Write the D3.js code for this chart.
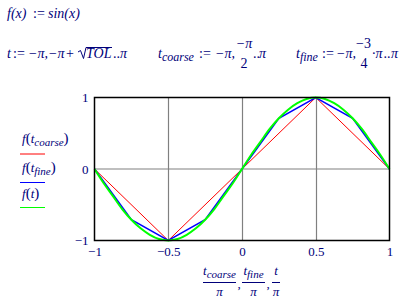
<!DOCTYPE html>
<html>
<head>
<meta charset="utf-8">
<script src="https://cdn.jsdelivr.net/npm/d3@7"></script>
<style>
  body { margin: 0; background: #fff; }
  svg text { font-family: "Liberation Serif", "Times New Roman", serif; fill: #00007a; }
</style>
</head>
<body>
<div id="chart"></div>
<script>
// x values are t/pi, y values are f(t)
const coarseX = [-1, -0.5, 0, 0.5, 1];
const coarseY = [0, -1, 0, 1, 0];
const fineX = [-1, -0.75, -0.5, -0.25, 0, 0.25, 0.5, 0.75, 1];
const fineY = [0, -0.71, -1, -0.71, 0, 0.71, 1, 0.71, 0];
const fullX = [-1, -0.9375, -0.875, -0.8125, -0.75, -0.6875, -0.625, -0.5625, -0.5,
  -0.4375, -0.375, -0.3125, -0.25, -0.1875, -0.125, -0.0625, 0,
  0.0625, 0.125, 0.1875, 0.25, 0.3125, 0.375, 0.4375, 0.5,
  0.5625, 0.625, 0.6875, 0.75, 0.8125, 0.875, 0.9375, 1];
const fullY = [0, -0.2, -0.38, -0.56, -0.71, -0.83, -0.92, -0.98, -1,
  -0.98, -0.92, -0.83, -0.71, -0.56, -0.38, -0.2, 0,
  0.2, 0.38, 0.56, 0.71, 0.83, 0.92, 0.98, 1,
  0.98, 0.92, 0.83, 0.71, 0.56, 0.38, 0.2, 0];
const xTicks = [-1, -0.5, 0, 0.5, 1];
const yTicks = [-1, 0, 1];

const width = 414, height = 305;
const svg = d3.select("#chart").append("svg")
  .attr("width", width).attr("height", height);

const x = d3.scaleLinear().domain([-1, 1]).range([94.5, 389.5]);
const y = d3.scaleLinear().domain([-1, 1]).range([240.5, 97.5]);

const navy = "#00007a";

// one piece of math text
function put(px, py, s, italic, size, anchor) {
  return svg.append("text").attr("x", px).attr("y", py)
    .style("font-size", (size || 14) + "px")
    .style("font-style", italic ? "italic" : "normal")
    .attr("text-anchor", anchor || "start")
    .text(s);
}
// "t" with a subscript, as one text
function tsub(px, py, name, size, anchor) {
  const t = svg.append("text").attr("x", px).attr("y", py)
    .style("font-size", size + "px").style("font-style", "italic")
    .attr("text-anchor", anchor || "start");
  t.append("tspan").text("t");
  if (name) t.append("tspan").text(name).attr("dy", 3).style("font-size", (size - 2) + "px");
  return t;
}
function bar(x1, x2, yy) {
  svg.append("line").attr("x1", x1).attr("x2", x2).attr("y1", yy).attr("y2", yy)
    .attr("stroke", navy).attr("stroke-width", 1);
}

// f(x) := sin(x)
put(7, 18, "f(x)", true);
put(33, 18, ":=", false);
put(48, 18, "sin(x)", true);

// t := -pi, -pi + sqrt(TOL) .. pi
const b2 = 57.5;
put(7, b2, "t", true);
put(13, b2, ":=", false);
put(28, b2, "\u2212\u03c0,", true);
put(48, b2, "\u2212\u03c0", true);
put(66, b2, "+", false);
svg.append("path").attr("d", "M78,52 L80.5,50.5 L83.5,58.5 L86,47.5 L112,47.5")
  .attr("fill", "none").attr("stroke", navy).attr("stroke-width", 1);
put(86, b2, "TOL", true);
put(113, b2, "..", false);
put(120, b2, "\u03c0", true);

// t_coarse := -pi, -pi/2 .. pi
tsub(158, b2, "coarse", 14);
put(199, b2, ":=", false);
put(215, b2, "\u2212\u03c0,", true);
put(244, 48, "\u2212\u03c0", true, 14, "middle");
put(244, 67.5, "2", false, 14, "middle");
put(253, b2, "..", false);
put(259, b2, "\u03c0", true);

// t_fine := -pi, -3/4 pi .. pi
tsub(296, b2, "fine", 14);
put(322, b2, ":=", false);
put(336, b2, "\u2212\u03c0,", true);
put(363.5, 48, "\u22123", false, 14, "middle");
put(364, 67.5, "4", false, 14, "middle");
put(371.5, b2, "\u00b7", false);
put(375.5, b2, "\u03c0", true);
put(383.5, b2, "..", false);
put(391, b2, "\u03c0", true);

// grid
const gridX = xTicks.filter(d => d !== -1 && d !== 1);
svg.append("g").selectAll("line").data(gridX).enter().append("line")
  .attr("x1", d => Math.round(x(d)) + 0.5).attr("x2", d => Math.round(x(d)) + 0.5)
  .attr("y1", y(1)).attr("y2", y(-1))
  .attr("stroke", "#808080").attr("stroke-width", 1.2);
svg.append("line")
  .attr("x1", x(-1)).attr("x2", x(1)).attr("y1", y(0)).attr("y2", y(0))
  .attr("stroke", "#808080").attr("stroke-width", 1.2);

// traces
const line = d3.line().x(d => x(d[0])).y(d => y(d[1]));
const smooth = d3.line().x(d => x(d[0])).y(d => y(d[1])).curve(d3.curveCatmullRom);
svg.append("path").datum(d3.zip(coarseX, coarseY)).attr("d", line)
  .attr("fill", "none").attr("stroke", "#ff0000").attr("stroke-width", 1);
svg.append("path").datum(d3.zip(fineX, fineY)).attr("d", line)
  .attr("fill", "none").attr("stroke", "#0000ff").attr("stroke-width", 1.5);
svg.append("path").datum(d3.zip(fullX, fullY)).attr("d", smooth)
  .attr("fill", "none").attr("stroke", "#00ff00").attr("stroke-width", 2);

// frame
svg.append("rect").attr("x", x(-1)).attr("y", y(1))
  .attr("width", x(1) - x(-1)).attr("height", y(-1) - y(1))
  .attr("fill", "none").attr("stroke", "#000").attr("stroke-width", 1.5);

// tick labels
const fmt = d3.format("");
const xAxis = svg.append("g").attr("transform", `translate(0,${y(-1)})`)
  .call(d3.axisBottom(x).tickValues(xTicks).tickFormat(fmt).tickSize(0).tickPadding(6));
const yAxis = svg.append("g").attr("transform", `translate(${x(-1)},0)`)
  .call(d3.axisLeft(y).tickValues(yTicks).tickFormat(fmt).tickSize(0).tickPadding(6));
[xAxis, yAxis].forEach(a => {
  a.select(".domain").remove();
  a.selectAll("text").style("font-size", "13px").attr("fill", navy)
    .style("font-family", "'Liberation Serif', serif");
});

// y legend: f(t_coarse), f(t_fine), f(t)
const legend = [
  { sub: "coarse", color: "#ff0000", base: 143, line: 154 },
  { sub: "fine", color: "#0000ff", base: 172, line: 182.5 },
  { sub: "", color: "#00ff00", base: 197.5, line: 207.5 }
];
legend.forEach(l => {
  const lt = svg.append("text").attr("x", 22).attr("y", l.base)
    .style("font-size", "13px").style("font-style", "italic");
  lt.append("tspan").text("f");
  lt.append("tspan").text("(").style("font-style", "normal").style("font-size", "15px");
  lt.append("tspan").text("t");
  if (l.sub) {
    lt.append("tspan").text(l.sub).attr("dy", 3).style("font-size", "11px");
    lt.append("tspan").text(")").attr("dy", -3).style("font-style", "normal").style("font-size", "15px");
  } else {
    lt.append("tspan").text(")").style("font-style", "normal").style("font-size", "15px");
  }
  svg.append("line").attr("x1", 20).attr("x2", 45)
    .attr("y1", l.line).attr("y2", l.line)
    .attr("stroke", l.color).attr("stroke-width", 1);
});

// x label: t_coarse/pi, t_fine/pi, t/pi
const xl = [
  { sub: "coarse", x1: 203, x2: 236, comma: 237.5 },
  { sub: "fine", x1: 242, x2: 265, comma: 266.5 },
  { sub: "", x1: 272, x2: 280, comma: null }
];
xl.forEach(f => {
  const cx = (f.x1 + f.x2) / 2;
  tsub(cx, 275, f.sub, 13, "middle");
  bar(f.x1, f.x2, 282.5);
  put(cx, 296, "\u03c0", true, 13, "middle");
  if (f.comma) put(f.comma, 288, ",", false, 13);
});
</script>
</body>
</html>
